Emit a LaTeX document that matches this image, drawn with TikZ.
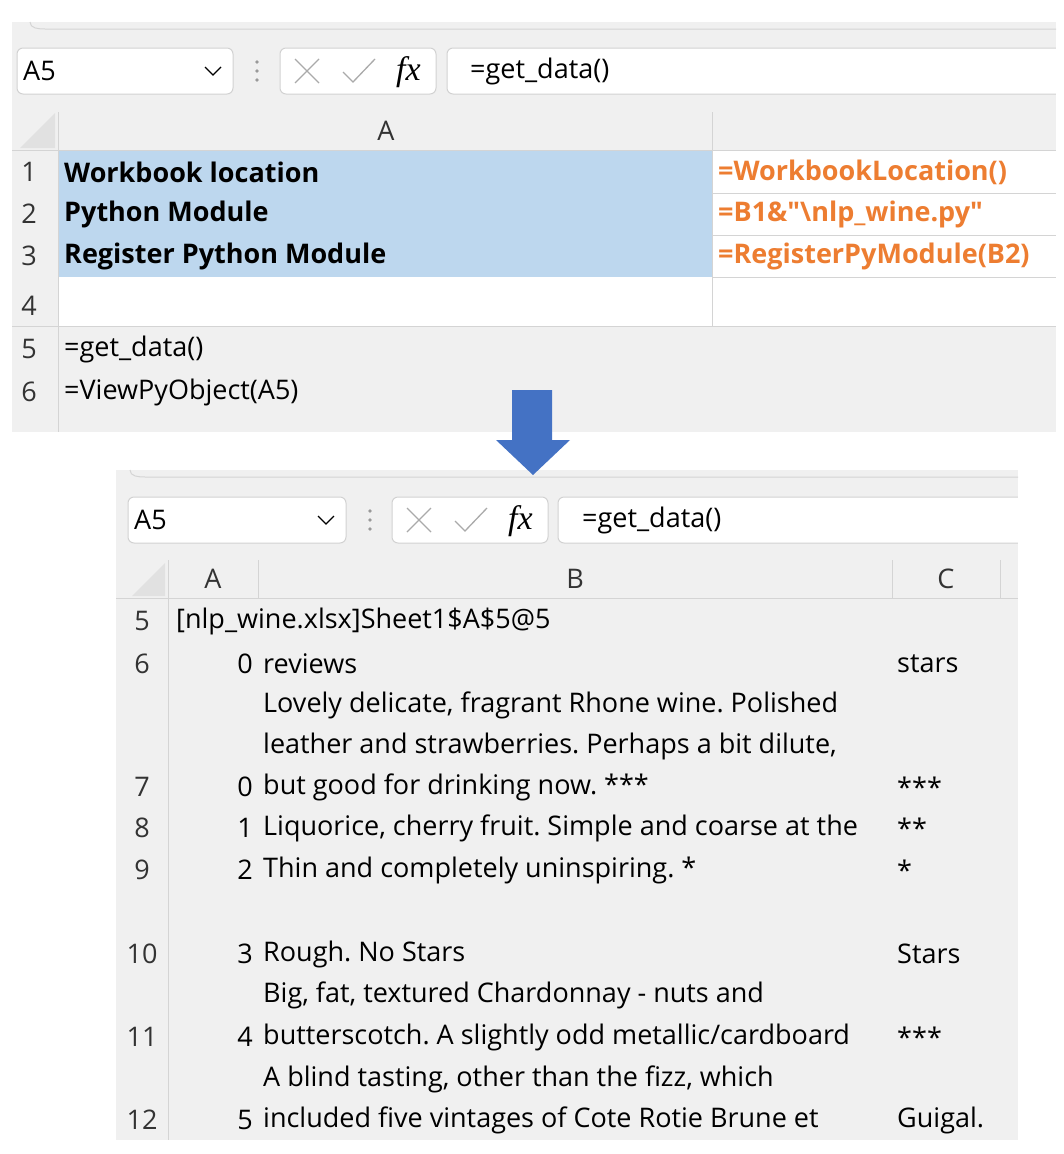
\documentclass[tikz,border=0pt]{standalone}
\usepackage{fontspec}
\setmainfont{Open Sans}
\newfontfamily\fxfont{Liberation Serif}
\frenchspacing
\definecolor{panel}{RGB}{240,240,240}
\definecolor{cellblue}{RGB}{189,215,238}
\definecolor{arrowblue}{RGB}{68,114,196}
\definecolor{xlorange}{RGB}{237,125,49}
\definecolor{gridc}{RGB}{212,212,212}
\definecolor{boxc}{RGB}{210,210,210}
\definecolor{cornerc}{RGB}{225,225,225}
\definecolor{markc}{RGB}{170,170,170}
\begin{document}
\begin{tikzpicture}[x=1pt,y=-1pt,
  txt/.style={font=\fontsize{27}{30}\selectfont, inner sep=0pt, anchor=west},
  num/.style={font=\fontsize{27}{30}\selectfont, inner sep=0pt, text=black!80},
  bld/.style={txt, font=\fontsize{27}{30}\selectfont\bfseries},
  orange/.style={bld, text=xlorange},
  grid/.style={draw=gridc, line width=1pt},
  box/.style={draw=boxc, fill=white, rounded corners=6pt, line width=1pt},
  xmark/.style={draw=markc, line width=1.3pt},
  fxs/.style={txt, font=\fontsize{34}{34}\selectfont\fxfont\itshape}]
\useasboundingbox (0,0) rectangle (1064,1154);
\fill[white] (0,0) rectangle (1064,1154);
% ---------- top panel ----------
\fill[panel] (12,22) rectangle (1056,432);
\draw[grid] (30,22) to[out=-90,in=180] (45,29) -- (1056,29);
\draw[box] (17,48) rectangle (233,94);
\node[txt] (nb1) at (23,71) {A5};
\draw[line width=1.2pt] (205,67) -- (213,75) -- (221,67);
\fill[black!40] (257,62) circle (1.8) (257,71) circle (1.8) (257,80) circle (1.8);
\draw[box] (280,48) rectangle (436,94);
\draw[xmark] (295,59) -- (319,83) (319,59) -- (295,83);
\draw[xmark] (343,72) -- (353,82) -- (375,59);
\node[fxs] (fx1) at (396,72) {fx};
\draw[box] (447,48) rectangle (1070,94);
\fill[white] (1056,40) rectangle (1064,100);
\node[txt] (fm1) at (470,71) {=get\_data()};
% cells
\fill[white] (58,150) rectangle (1056,326);
\fill[cellblue] (58,150) rectangle (712,277);
\fill[cornerc] (20,148) -- (55,148) -- (55,113) -- cycle;
\draw[grid] (58,112) -- (58,432);
\draw[grid] (712,112) -- (712,326);
\draw[grid] (12,150) -- (1056,150);
\foreach \y in {193,235,277} \draw[grid] (712,\y) -- (1056,\y);
\draw[grid] (12,326) -- (1056,326);
\node[num] (hA) at (386,131) {A};
\foreach \n/\y in {1/172,2/214,3/256,4/306,5/349,6/392} \node[num] (r\n) at (29,\y) {\n};
\node[bld] (a1) at (64,172) {Workbook location};
\node[bld] (a2) at (64,214) {Python Module};
\node[bld] (a3) at (64,256) {Register Python Module};
\node[orange] (b1) at (718,172) {=WorkbookLocation()};
\node[orange] (b2) at (718,214) {=B1\&\textquotedbl\textbackslash nlp\_wine.py\textquotedbl};
\node[orange] (b3) at (718,256) {=RegisterPyModule(B2)};
\node[txt] (a5) at (64,349) {=get\_data()};
\node[txt] (a6) at (64,392) {=ViewPyObject(A5)};
% ---------- bottom panel ----------
\fill[panel] (116,470) rectangle (1018,1140);
\draw[grid] (130,470) to[out=-90,in=180] (145,477) -- (1018,477);
\draw[box] (128,497) rectangle (346,543);
\node[txt] (nb2) at (134,520) {A5};
\draw[line width=1.2pt] (318,516) -- (326,524) -- (334,516);
\fill[black!40] (370,511) circle (1.8) (370,520) circle (1.8) (370,529) circle (1.8);
\draw[box] (392,497) rectangle (548,543);
\draw[xmark] (407,508) -- (431,532) (431,508) -- (407,532);
\draw[xmark] (455,521) -- (465,531) -- (487,508);
\node[fxs] (fx2) at (508,521) {fx};
\draw[box] (558,497) rectangle (1030,543);
\fill[white] (1018,480) rectangle (1064,560);
\node[txt] (fm2) at (582,520) {=get\_data()};
\fill[cornerc] (132,596) -- (165,596) -- (165,563) -- cycle;
\draw[grid] (168,560) -- (168,1140);
\draw[grid] (258,560) -- (258,598) (892,560) -- (892,598) (1000,560) -- (1000,598);
\draw[grid] (116,598) -- (1018,598);
\node[num] (hA2) at (213,579) {A};
\node[num] (hB2) at (575,579) {B};
\node[num] (hC2) at (946,579) {C};
\foreach \n/\y in {5/621,6/664,7/787,8/828,9/870,10/954,11/1037,12/1120} \node[num] (s\n) at (142,\y) {\n};
\node[txt] (c5) at (176,621) {[nlp\_wine.xlsx]Sheet1\$A\$5@5};
\foreach \i/\v/\y in {n6/0/664,n7/0/787,n8/1/828,n9/2/870,n10/3/954,n11/4/1037,n12/5/1120}
  \node[txt, anchor=east] (\i) at (253,\y) {\v};
\node[txt] (t6) at (263,664) {reviews};
\node[txt] (t7a) at (263,705) {Lovely delicate, fragrant Rhone wine. Polished};
\node[txt] (t7b) at (263,746) {leather and strawberries. Perhaps a bit dilute,};
\node[txt] (t7c) at (263,787) {but good for drinking now. ***};
\node[txt] (t8) at (263,828) {Liquorice, cherry fruit. Simple and coarse at the};
\node[txt] (t9) at (263,870) {Thin and completely uninspiring. *};
\node[txt] (t10) at (263,954) {Rough. No Stars};
\node[txt] (t11a) at (263,995) {Big, fat, textured Chardonnay - nuts and};
\node[txt] (t11b) at (263,1037) {butterscotch. A slightly odd metallic/cardboard};
\node[txt] (t12a) at (263,1079) {A blind tasting, other than the fizz, which};
\node[txt] (t12b) at (263,1120) {included five vintages of Cote Rotie Brune et};
\node[txt] (k6) at (897,664) {stars};
\node[txt] (k7) at (897,787) {***};
\node[txt] (k8) at (897,828) {**};
\node[txt] (k9) at (897,870) {*};
\node[txt] (k10) at (897,954) {Stars};
\node[txt] (k11) at (897,1037) {***};
\node[txt] (k12) at (897,1120) {Guigal.};
% ---------- arrow ----------
\fill[arrowblue] (512,390) -- (552,390) -- (552,440) -- (570,440) -- (533,475) -- (496,440) -- (512,440) -- cycle;
\end{tikzpicture}
\end{document}
